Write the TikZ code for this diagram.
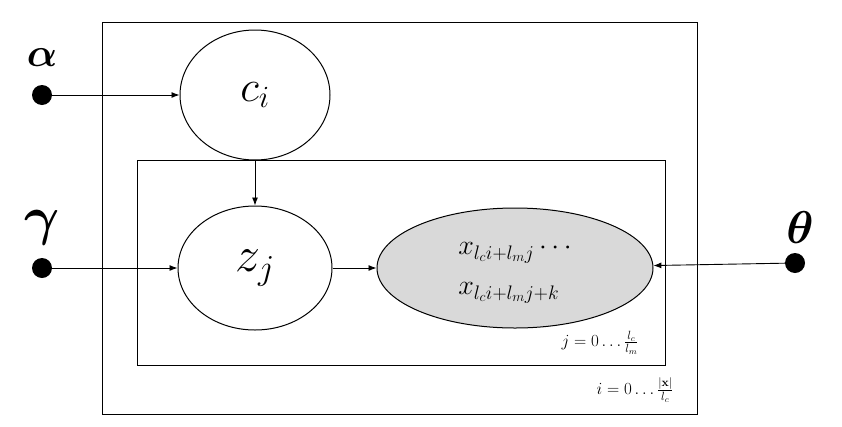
\documentclass[tikz,border=0pt]{standalone}
\usepackage{fix-cm}
\usepackage{amsmath,bm}
\usetikzlibrary{arrows.meta,shapes.geometric}
\begin{document}
\begin{tikzpicture}[x=1pt,y=-1pt,
  plate/.style={draw,line width=1pt},
  var/.style={draw,ellipse,line width=1pt,fill=white,inner sep=0pt},
  dot/.style={circle,fill=black,inner sep=0pt,minimum size=20pt},
  arr/.style={-{Latex[length=8pt,width=6pt]},line width=0.9pt}]
\useasboundingbox (0,0) rectangle (842,426);
\draw[plate] (102,22) rectangle (697,414);
\draw[plate] (137,160) rectangle (665,365);
\node[var,minimum width=150pt,minimum height=130pt] (c) at (255,95) {\fontsize{44}{44}\selectfont $c_i$};
\node[var,minimum width=154pt,minimum height=124pt] (z) at (255,268) {\fontsize{50}{50}\selectfont $z_j$};
\node[var,fill=gray!30,minimum width=276pt,minimum height=120pt] (x) at (515,268) {\fontsize{28}{34}\selectfont $\begin{array}{l} x_{l_c i+l_m j}\cdots\\[6pt] x_{l_c i+l_m j+k}\end{array}$};
\node[dot] (a) at (42,95) {};
\node[dot] (g) at (42,268) {};
\node[dot] (t) at (795,263) {};
\node (la) at (42,58) {\fontsize{40}{40}\selectfont $\bm{\alpha}$};
\node (lg) at (42,228) {\fontsize{54}{54}\selectfont $\bm{\gamma}$};
\node (lt) at (800,228) {\fontsize{46}{46}\selectfont $\bm{\theta}$};
\node (pj) at (600,343) {\fontsize{17}{17}\selectfont $j=0\ldots\frac{l_c}{l_m}$};
\node (pi) at (635,390) {\fontsize{17}{17}\selectfont $i=0\ldots\frac{|\mathbf{x}|}{l_c}$};
\draw[arr] (a) -- (c);
\draw[arr] (g) -- (z);
\draw[arr] (c) -- (z);
\draw[arr] (z) -- (x);
\draw[arr] (t) -- (x);
\end{tikzpicture}
\end{document}
